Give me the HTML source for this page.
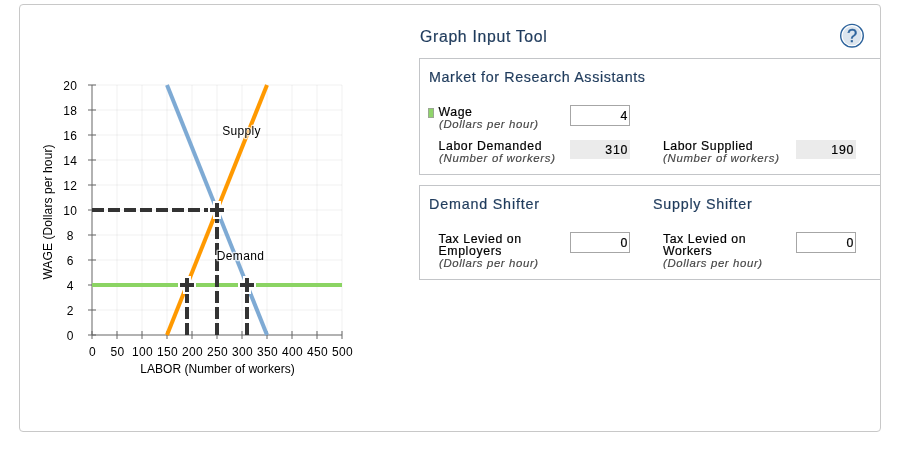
<!DOCTYPE html>
<html>
<head>
<meta charset="utf-8">
<title>Graph Input Tool</title>
<style>
  html, body { margin: 0; padding: 0; background: #fff; }
  body { width: 906px; height: 470px; position: relative; overflow: hidden;
         font-family: "Liberation Sans", sans-serif; }
  #frame { position: absolute; left: 19px; top: 4px; width: 860px; height: 426px;
           border: 1px solid #c8c8c8; border-radius: 4px; background: #fff; }
  #clip { position: absolute; left: 0; top: 0; width: 880px; height: 470px; overflow: hidden; }
  .panel { position: absolute; left: 419px; width: 470px; border: 1px solid #c3c5c8; box-sizing: border-box; }
  #layer { position: absolute; left: 0; top: 0; width: 906px; height: 470px; will-change: transform; }
  #chart { position: absolute; left: 0; top: 0; width: 906px; height: 470px; }
  .tx { position: absolute; white-space: nowrap; line-height: 14px; height: 14px; }
  .title { color: #1f3b5c; font-size: 15.8px; -webkit-text-stroke: 0.2px #1f3b5c; }
  .h2 { color: #1f3b5c; font-size: 14.3px; -webkit-text-stroke: 0.2px #1f3b5c; }
  .lbl { color: #000; font-size: 12.3px; -webkit-text-stroke: 0.2px #000; }
  .sub { color: #444; font-size: 11.4px; font-style: italic; -webkit-text-stroke: 0.15px #444; }
  .num { color: #000; font-size: 12.3px; -webkit-text-stroke: 0.2px #000; }
  .inp { position: absolute; width: 60px; height: 21px; box-sizing: border-box; border: 1px solid #a6a6a6; background: #fff; }
  .ro { position: absolute; width: 60px; height: 19px; background: #ebebeb; }
  #swatch { position: absolute; left: 428px; top: 108px; width: 6px; height: 10px; box-sizing: border-box;
            background: #8fd46a; border: 1px solid #9aa892; }
</style>
</head>
<body>
<div id="frame"></div>
<div id="clip">
  <div class="panel" style="top:58px; height:117px;"></div>
  <div class="panel" style="top:185px; height:95px;"></div>
</div>
<div id="layer">
<div class="inp" style="left:570px; top:105px;"></div>
<div class="ro" style="left:570px; top:140px;"></div>
<div class="ro" style="left:796px; top:140px;"></div>
<div class="inp" style="left:570px; top:232px;"></div>
<div class="inp" style="left:796px; top:232px;"></div>
<div id="swatch"></div>
<div id="t_title" class="tx title" style="left:420.00px; top:30px; letter-spacing:0.685px;">Graph Input Tool</div>
<div id="t_mkt" class="tx h2" style="left:429.00px; top:70px; letter-spacing:0.626px;">Market for Research Assistants</div>
<div id="t_wage" class="tx lbl" style="left:438.50px; top:105px; letter-spacing:0.575px;">Wage</div>
<div id="t_wsub" class="tx sub" style="left:439.00px; top:117px; letter-spacing:0.616px;">(Dollars per hour)</div>
<div id="t_ld" class="tx lbl" style="left:438.50px; top:139px; letter-spacing:0.614px;">Labor Demanded</div>
<div id="t_ldsub" class="tx sub" style="left:439.00px; top:151px; letter-spacing:0.678px;">(Number of workers)</div>
<div id="t_ls" class="tx lbl" style="left:663.00px; top:139px; letter-spacing:0.529px;">Labor Supplied</div>
<div id="t_lssub" class="tx sub" style="left:663.00px; top:151px; letter-spacing:0.678px;">(Number of workers)</div>
<div id="t_dsh" class="tx h2" style="left:429.00px; top:197px; letter-spacing:0.821px;">Demand Shifter</div>
<div id="t_ssh" class="tx h2" style="left:653.00px; top:197px; letter-spacing:0.752px;">Supply Shifter</div>
<div id="t_tx1" class="tx lbl" style="left:438.50px; top:232px; letter-spacing:0.551px;">Tax Levied on</div>
<div id="t_emp" class="tx lbl" style="left:438.50px; top:244px; letter-spacing:0.612px;">Employers</div>
<div id="t_tx1s" class="tx sub" style="left:439.00px; top:256px; letter-spacing:0.616px;">(Dollars per hour)</div>
<div id="t_tx2" class="tx lbl" style="left:663.00px; top:232px; letter-spacing:0.551px;">Tax Levied on</div>
<div id="t_wrk" class="tx lbl" style="left:663.00px; top:244px; letter-spacing:0.524px;">Workers</div>
<div id="t_tx2s" class="tx sub" style="left:663.00px; top:256px; letter-spacing:0.616px;">(Dollars per hour)</div>
<div id="n_wage" class="tx num" style="left:620.56px; top:109px; letter-spacing:0.000px;">4</div>
<div id="n_ld" class="tx num" style="left:605.30px; top:143px; letter-spacing:0.792px;">310</div>
<div id="n_ls" class="tx num" style="left:831.30px; top:143px; letter-spacing:0.792px;">190</div>
<div id="n_t1" class="tx num" style="left:620.56px; top:236px; letter-spacing:0.000px;">0</div>
<div id="n_t2" class="tx num" style="left:846.56px; top:236px; letter-spacing:0.000px;">0</div>
<svg id="help" style="position:absolute; left:838px; top:22px;" width="28" height="28" viewBox="0 0 28 28">
  <circle cx="14" cy="13.7" r="11.3" fill="#fff" stroke="#2d639c" stroke-width="1.4"/>
  <circle cx="14" cy="13.7" r="9.5" fill="#dce5ee"/>
  <text x="14.2" y="20.2" text-anchor="middle" font-family="Liberation Sans, sans-serif" font-size="18.5" fill="#2d639c" stroke="#2d639c" stroke-width="0.3">?</text>
</svg>
<svg id="chart" width="906" height="470" viewBox="0 0 906 470" font-family="Liberation Sans, sans-serif" font-size="12" fill="#000">
  <!-- grid -->
  <g stroke="#555" stroke-opacity="0.055" stroke-width="1.5" fill="none">
    <path d="M117 85V335M142 85V335M167 85V335M192 85V335M217 85V335M242 85V335M267 85V335M292 85V335M317 85V335M342 85V335"/>
    <path d="M92 85H342M92 110H342M92 135H342M92 160H342M92 185H342M92 210H342M92 235H342M92 260H342M92 285H342M92 310H342"/>
  </g>
  <!-- axes -->
  <g stroke="#666" stroke-opacity="0.5" stroke-width="2" fill="none">
    <path d="M92 85V335"/><path d="M92 335H342"/>
    <path d="M88 85H96"/><path d="M88 110H96"/><path d="M88 135H96"/><path d="M88 160H96"/><path d="M88 185H96"/><path d="M88 210H96"/><path d="M88 235H96"/><path d="M88 260H96"/><path d="M88 285H96"/><path d="M88 310H96"/><path d="M88 335H96"/>
    <path d="M92 331V339"/><path d="M117 331V339"/><path d="M142 331V339"/><path d="M167 331V339"/><path d="M192 331V339"/><path d="M217 331V339"/><path d="M242 331V339"/><path d="M267 331V339"/><path d="M292 331V339"/><path d="M317 331V339"/><path d="M342 331V339"/>
  </g>
  <!-- y labels -->
  <g text-anchor="middle" letter-spacing="0.33">
    <text x="70.2" y="90">20</text><text x="70.2" y="115">18</text><text x="70.2" y="140">16</text><text x="70.2" y="165">14</text><text x="70.2" y="190">12</text><text x="70.2" y="215">10</text><text x="70.2" y="240">8</text><text x="70.2" y="265">6</text><text x="70.2" y="290">4</text><text x="70.2" y="315">2</text><text x="70.2" y="340">0</text>
  </g>
  <!-- x labels -->
  <g text-anchor="middle" letter-spacing="0.33">
    <text x="92.5" y="356">0</text><text x="117.5" y="356">50</text><text x="142.5" y="356">100</text><text x="167.5" y="356">150</text><text x="192.5" y="356">200</text><text x="217.5" y="356">250</text><text x="242.5" y="356">300</text><text x="267.5" y="356">350</text><text x="292.5" y="356">400</text><text x="317.5" y="356">450</text><text x="342.5" y="356">500</text>
  </g>
  <g text-anchor="middle">
    <text x="217.5" y="373" letter-spacing="0.05">LABOR (Number of workers)</text>
    <text transform="translate(52,212) rotate(-90)" letter-spacing="0.1">WAGE (Dollars per hour)</text>
  </g>
  <!-- curves -->
  <path d="M167 85L267 335" stroke="#7eaad4" stroke-width="4" fill="none"/>
  <path d="M167 335L267 85" stroke="#ff9900" stroke-width="4" fill="none"/>
  <path d="M92 285H342" stroke="#8bd463" stroke-width="4" fill="none"/>
  <!-- dashed -->
  <g stroke="#333" stroke-width="4" fill="none" stroke-dasharray="12 4">
    <path d="M92 210H217"/>
    <path d="M217 335V210"/>
    <path d="M187 335V285"/>
    <path d="M247 335V285"/>
  </g>
  <!-- plus markers -->
  <g fill="none" stroke-linecap="butt">
    <path d="M208 210H226M217 201V219M178 285H196M187 276V294M238 285H256M247 276V294" stroke="#fff" stroke-width="8"/>
    <path d="M210 210H224M217 203V217M180 285H194M187 278V292M240 285H254M247 278V292" stroke="#333" stroke-width="4"/>
  </g>
  <!-- labels -->
  <g text-anchor="middle" stroke="#fff" stroke-opacity="0.75" stroke-width="2.5" paint-order="stroke" stroke-linejoin="round" letter-spacing="0.33">
    <text x="241.5" y="135">Supply</text>
    <text x="240.5" y="260">Demand</text>
  </g>
</svg>
</div>
</body>
</html>
